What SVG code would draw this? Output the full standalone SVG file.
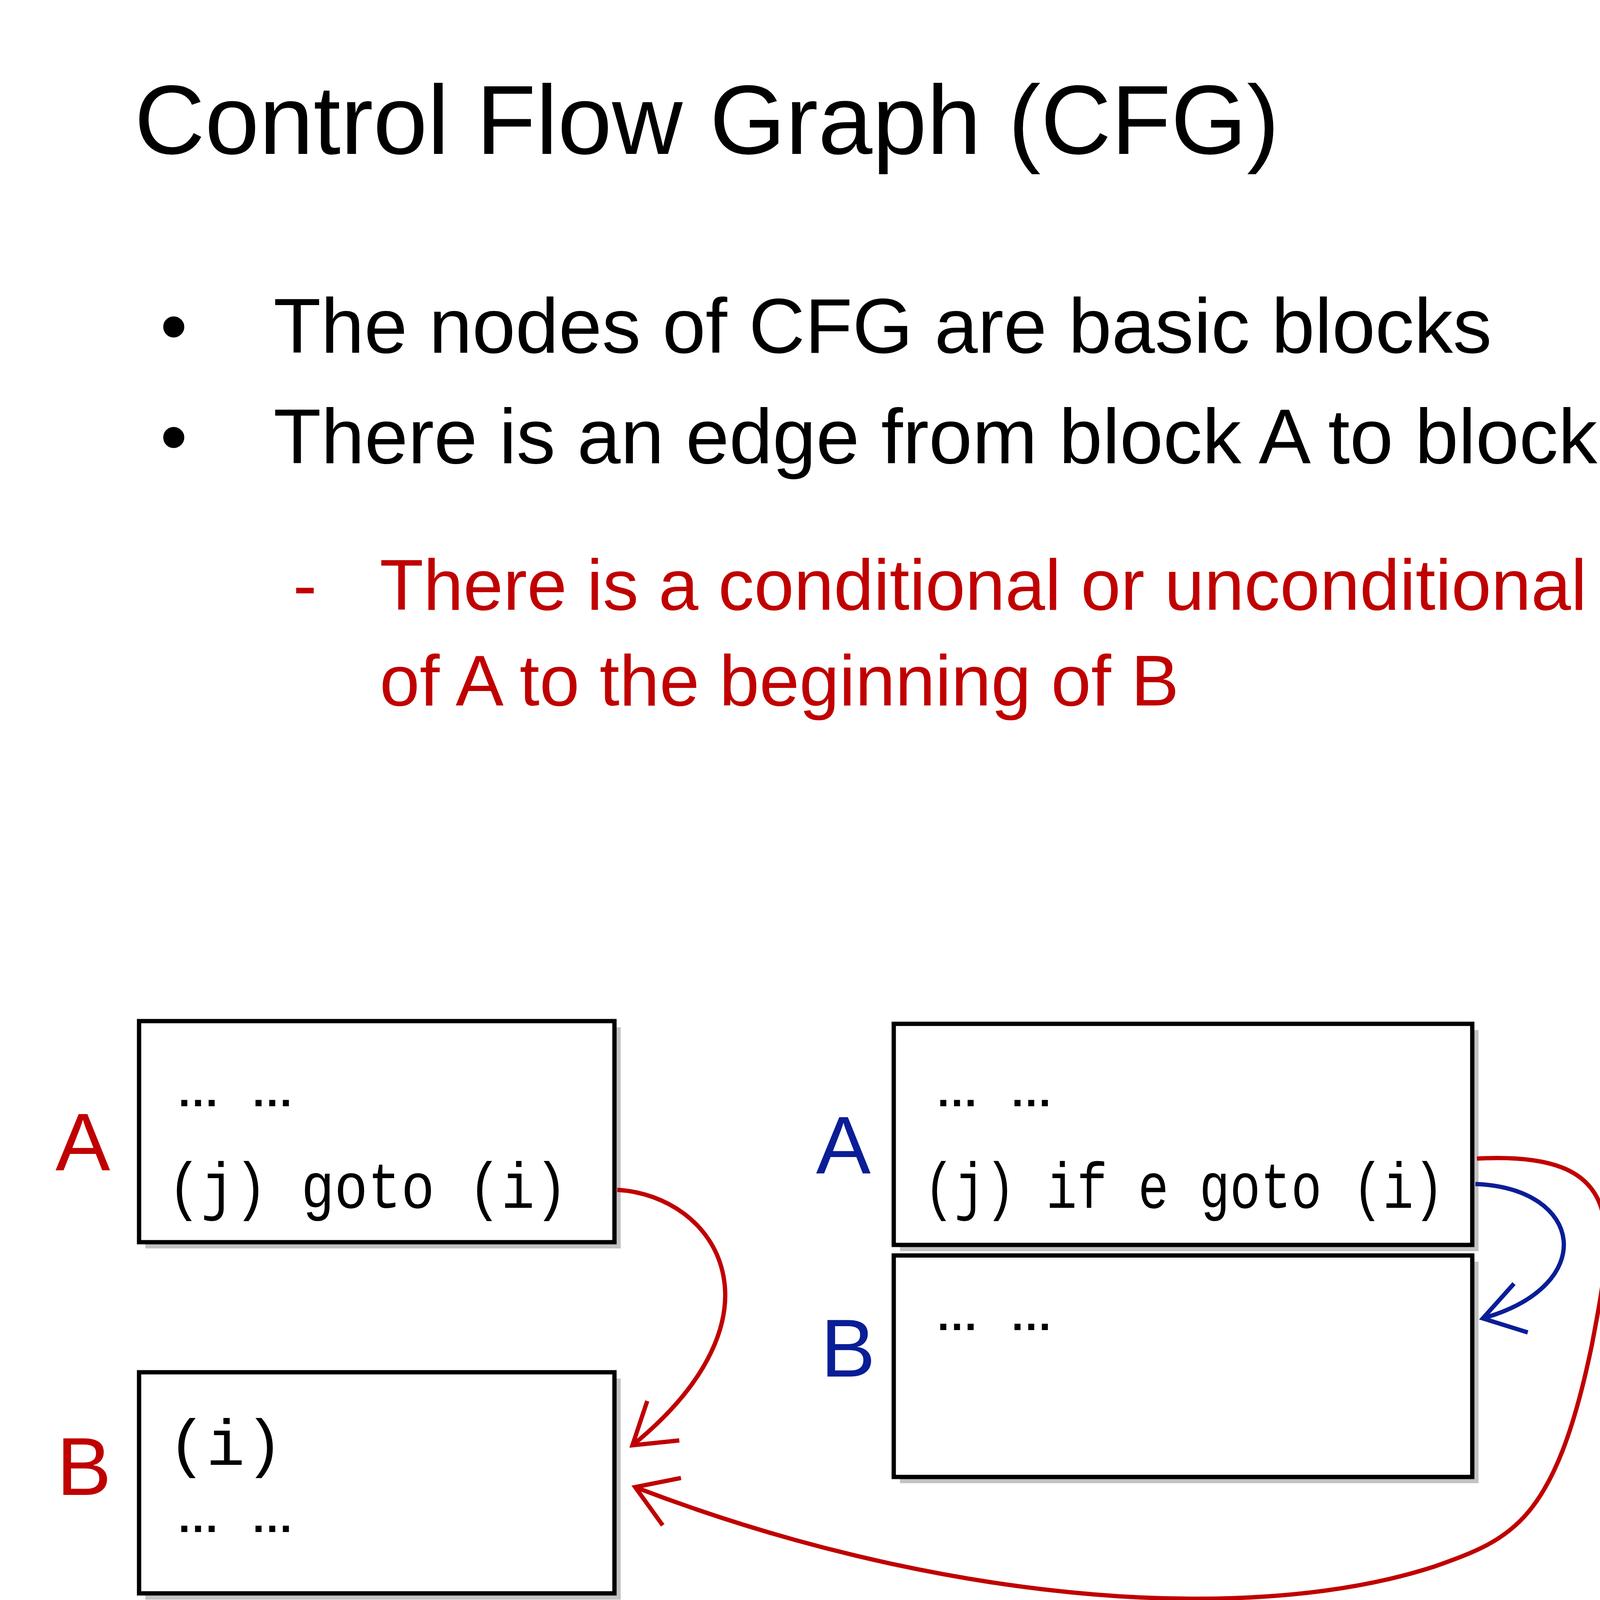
<svg xmlns="http://www.w3.org/2000/svg" width="6000" height="4500" viewBox="0 0 6000 4500">
<style>
.t{font-family:"Liberation Sans",Arial,sans-serif;fill:#000}
.box{fill:#fff;stroke:#000;stroke-width:11}
.sh{fill:#999;opacity:.6}
.m{font-family:"Liberation Mono","DejaVu Sans Mono",monospace;font-size:165px;fill:#000}
.d{font-family:"Liberation Sans",Arial,sans-serif;font-size:110px;font-weight:bold;fill:#000}
.lr{font-family:"Liberation Sans",Arial,sans-serif;font-size:210px;fill:#C00000}
.lb{font-family:"Liberation Sans",Arial,sans-serif;font-size:210px;fill:#0A1E96}
.ar{fill:none;stroke:#C00000;stroke-width:11}
.ab{fill:none;stroke:#0A1E96;stroke-width:11}
</style>
<defs>
<marker id="mr" viewBox="0 0 12 12" refX="11" refY="6" markerWidth="12" markerHeight="12" markerUnits="userSpaceOnUse" orient="auto" overflow="visible"><path d="M-90,-60 L11,6 L-90,70" fill="none" stroke="#C00000" stroke-width="11"/></marker>
<marker id="mb" viewBox="0 0 12 12" refX="11" refY="6" markerWidth="12" markerHeight="12" markerUnits="userSpaceOnUse" orient="auto" overflow="visible"><path d="M-90,-60 L11,6 L-90,70" fill="none" stroke="#0A1E96" stroke-width="11"/></marker>
</defs>
<rect width="6000" height="4500" fill="#fff"/>
<text class="t" x="344" y="394" font-size="250">Control Flow Graph (CFG)</text>
<text class="t" x="410" y="903" font-size="199">•</text>
<text class="t" x="700" y="903" font-size="199">The nodes of CFG are basic blocks</text>
<text class="t" x="410" y="1186" font-size="199">•</text>
<text class="t" x="700" y="1186" font-size="199" textLength="4700" lengthAdjust="spacingAndGlyphs">There is an edge from block A to block B if and only if</text>
<text class="t" x="750" y="1561" font-size="184" style="fill:#C00000">-</text>
<text class="t" x="972" y="1561" font-size="184" style="fill:#C00000" textLength="4620" lengthAdjust="spacingAndGlyphs">There is a conditional or unconditional jump from the end</text>
<text class="t" x="972" y="1806" font-size="184" style="fill:#C00000">of A to the beginning of B</text>

<g id="leftA"><rect class="sh" x="372" y="2630" width="1217" height="566"/><rect class="box" x="356" y="2614" width="1217" height="566"/>
<text class="d" x="452" y="2832">…</text><text class="d" x="642" y="2832">…</text>
<text class="m" x="429" y="3092" textLength="1025" lengthAdjust="spacingAndGlyphs">(j) goto (i)</text></g>
<text class="lr" x="142" y="2996">A</text>
<g id="leftB"><rect class="sh" x="372" y="3529" width="1217" height="566"/><rect class="box" x="356" y="3513" width="1217" height="566"/>
<text class="m" x="429" y="3750">(i)</text><text class="d" x="452" y="3922">…</text><text class="d" x="642" y="3922">…</text></g>
<text class="lr" x="145" y="3827">B</text>

<g id="midA"><rect class="sh" x="2304" y="2637" width="1481" height="566"/><rect class="box" x="2288" y="2621" width="1481" height="566"/>
<text class="d" x="2395" y="2832">…</text><text class="d" x="2585" y="2832">…</text>
<text class="m" x="2365" y="3092" textLength="1332" lengthAdjust="spacingAndGlyphs">(j) if e goto (i)</text></g>
<text class="lb" x="2089" y="3004">A</text>
<g id="midB"><rect class="sh" x="2304" y="3230" width="1481" height="567"/><rect class="box" x="2288" y="3214" width="1481" height="567"/>
<text class="d" x="2395" y="3405">…</text><text class="d" x="2585" y="3405">…</text></g>
<text class="lb" x="2101" y="3524">B</text>

<g id="rightA"><rect class="sh" x="4386" y="2637" width="685" height="566"/><rect class="box" x="4370" y="2621" width="685" height="566"/>
<text class="d" x="4485" y="2832">…</text><text class="d" x="4665" y="2832">…</text>
<text class="d" x="4485" y="3092">…</text><text class="d" x="4675" y="3092">…</text></g>
<text class="lb" x="4171" y="3004">A</text>
<g id="rightB"><rect class="sh" x="4386" y="3230" width="685" height="567"/><rect class="box" x="4370" y="3214" width="685" height="567"/>
<text class="d" x="4485" y="3405">…</text><text class="d" x="4665" y="3405">…</text></g>
<text class="lb" x="4182" y="3524">B</text>

<g id="edges">
<path class="ar" marker-end="url(#mr)" d="M1580,3046 C1837,3061 2028,3367 1619,3700"/>
<path class="ar" marker-end="url(#mr)" d="M3781,2966 C4171,2946 4133,3138 4075,3444 C3980,3903 3865,3941 3673,4010 C3176,4171 2372,4094 1626,3807"/>
<path class="ab" marker-end="url(#mb)" d="M3777,3031 C4056,3042 4094,3291 3796,3375"/>
<path class="ab" marker-end="url(#mb)" d="M5066,3069 C5357,3080 5357,3367 5082,3417"/>
</g>
<text x="3000" y="4324" text-anchor="middle" font-family="Open Sans,sans-serif" font-size="84" fill="#7f7f7f">Yue Li @ Nanjing University</text>
<text x="5990" y="4446" text-anchor="end" font-family="Liberation Sans,sans-serif" font-size="92" fill="#d0d0d0">CSDN @EricWang1358</text>
</svg>
